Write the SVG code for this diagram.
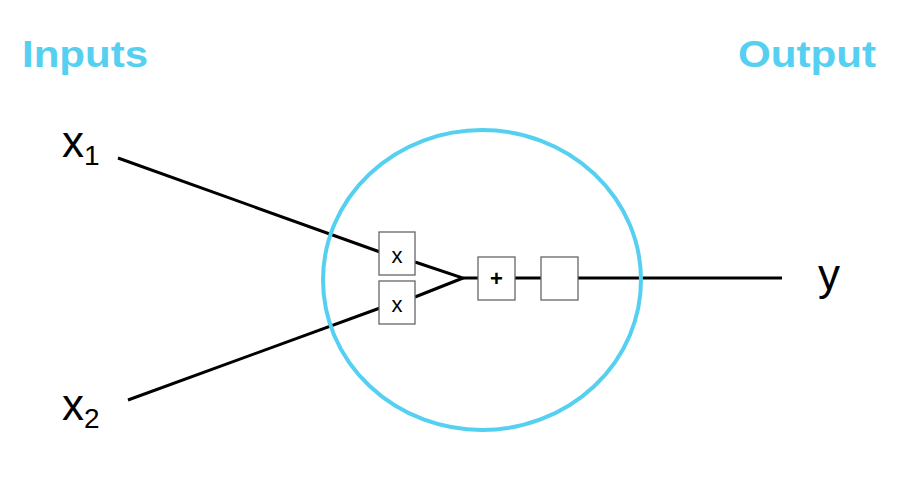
<svg xmlns="http://www.w3.org/2000/svg" width="900" height="504" viewBox="0 0 900 504">
<style>
.t{font-family:"Liberation Sans",Arial,sans-serif}
.h{font-size:36px;font-weight:bold;fill:#55d0f0}
.v{font-size:44px;fill:#000}
.s{font-size:28px}
.b{fill:#fff;stroke:#666;stroke-width:1.3}
.c{stroke:#000;stroke-width:3;fill:none}
</style>
<rect width="900" height="504" fill="#fff"/>
<text class="t h" x="22" y="67" textLength="126" lengthAdjust="spacingAndGlyphs">Inputs</text>
<text class="t h" x="738" y="67" textLength="138" lengthAdjust="spacingAndGlyphs">Output</text>
<text class="t v" x="62" y="157">x<tspan class="s" dy="8">1</tspan></text>
<text class="t v" x="62" y="420">x<tspan class="s" dy="8">2</tspan></text>
<text class="t v" x="818" y="290">y</text>
<g id="connectors">
<polyline class="c" points="118,158 380,252"/>
<polyline class="c" points="415,262 463,278 415,297"/>
<polyline class="c" points="128,400 380,308"/>
<line class="c" x1="463" y1="278" x2="782" y2="278"/>
</g>
<g id="neuron"><ellipse cx="482" cy="280" rx="159" ry="150" fill="none" stroke="#55d0f0" stroke-width="4"/></g>
<g id="mul1"><rect class="b" x="379" y="232" width="36" height="43"/><text class="t" x="397" y="263" font-size="22" text-anchor="middle">x</text></g>
<g id="mul2"><rect class="b" x="379" y="281" width="36" height="43"/><text class="t" x="397" y="312" font-size="22" text-anchor="middle">x</text></g>
<g id="sum"><rect class="b" x="478" y="257" width="37" height="43"/><text class="t" x="496.5" y="286" font-size="22" font-weight="bold" text-anchor="middle">+</text></g>
<g id="act"><rect class="b" x="541" y="257" width="37" height="43"/></g>
</svg>
